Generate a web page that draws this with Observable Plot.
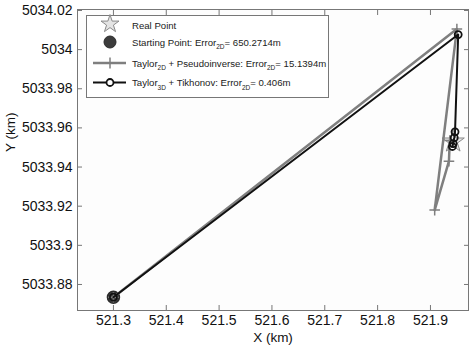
<!DOCTYPE html>
<html>
<head>
<meta charset="utf-8">
<script src="https://cdn.jsdelivr.net/npm/d3@7"></script>
<script src="https://cdn.jsdelivr.net/npm/@observablehq/plot@0.6"></script>
<style>
  html, body { margin: 0; padding: 0; background: #fff; }
  #chart { position: relative; width: 474px; height: 351px; }
</style>
</head>
<body>
<div id="chart"></div>
<script>
// ---- data ----
const realX = [521.943];
const realY = [5033.953];
const startX = [521.300];
const startY = [5033.8735];
const pseudoX = [521.300, 521.950, 521.908, 521.935, 521.9365];
const pseudoY = [5033.8735, 5034.0105, 5033.918, 5033.943, 5033.9535];
const tikhX = [521.300, 521.9525, 521.9465, 521.945, 521.943, 521.9415];
const tikhY = [5033.8735, 5034.0077, 5033.958, 5033.955, 5033.952, 5033.9505];
const xTicks = [521.3, 521.4, 521.5, 521.6, 521.7, 521.8, 521.9];
const yTicks = [5033.88, 5033.9, 5033.92, 5033.94, 5033.96, 5033.98, 5034, 5034.02];
const legendLabels = [
  [["Real Point", false]],
  [["Starting Point: Error", false], ["2D", true], ["= 650.2714m", false]],
  [["Taylor", false], ["2D", true], [" + Pseudoinverse: Error", false], ["2D", true], ["= 15.1394m", false]],
  [["Taylor", false], ["3D", true], [" + Tikhonov: Error", false], ["2D", true], ["= 0.406m", false]]
];

const real = realX.map((x, i) => ({x, y: realY[i]}));
const start = startX.map((x, i) => ({x, y: startY[i]}));
const pseudo = pseudoX.map((x, i) => ({x, y: pseudoY[i]}));
const tikh = tikhX.map((x, i) => ({x, y: tikhY[i]}));

const fmt = d => String(+d.toFixed(2));
const FONT = "Liberation Sans, Arial, Helvetica, sans-serif";

const plot = Plot.plot({
  width: 474,
  height: 351,
  marginLeft: 77,
  marginRight: 6,
  marginTop: 9,
  marginBottom: 41,
  style: {fontFamily: FONT, fontSize: "14px", color: "#000", background: "#fff"},
  x: {domain: [521.232, 521.972]},
  y: {domain: [5033.8667, 5034.0205]},
  marks: [
    Plot.frame({fill: "#fdfdfd"}),
    Plot.axisX({anchor: "bottom", ticks: xTicks, tickSize: -5, tickPadding: 10, tickFormat: fmt, stroke: "#777", fill: "#111", label: null}),
    Plot.axisX({anchor: "top", ticks: xTicks, tickSize: -5, text: null, stroke: "#777", label: null}),
    Plot.axisY({anchor: "left", ticks: yTicks, tickSize: -5, tickPadding: 10, tickFormat: fmt, stroke: "#777", fill: "#111", label: null}),
    Plot.axisY({anchor: "right", ticks: yTicks, tickSize: -5, text: null, stroke: "#777", label: null}),
    Plot.frame({stroke: "#777", strokeWidth: 1}),
    Plot.dot(start, {x: "x", y: "y", r: 6, fill: "#3c3c3c", stroke: "#2a2a2a"}),
    Plot.dot(real, {x: "x", y: "y", symbol: "star", r: 7, fill: "#e4e4e4", stroke: "#8a8a8a", strokeWidth: 1}),
    Plot.line(pseudo, {x: "x", y: "y", stroke: "#7f7f7f", strokeWidth: 2.5}),
    Plot.dot(pseudo, {x: "x", y: "y", symbol: "plus", r: 3.5, stroke: "#7f7f7f", strokeWidth: 1.5}),
    Plot.line(tikh, {x: "x", y: "y", stroke: "#111", strokeWidth: 2}),
    Plot.dot(tikh, {x: "x", y: "y", symbol: "circle", r: 3.5, fill: "none", stroke: "#111", strokeWidth: 1.8}),
    Plot.text(["X (km)"], {frameAnchor: "bottom", dy: 31, lineAnchor: "bottom", fontSize: 13.5, fill: "#111"}),
    Plot.text(["Y (km)"], {frameAnchor: "left", dx: -67, rotate: -90, fontSize: 13.5, fill: "#111", dy: -8})
  ]
});
document.getElementById("chart").appendChild(plot);

// ---- legend inside plot ----
const svg = d3.select(plot);
const g = svg.append("g").attr("font-family", FONT).attr("font-size", "9.6px").attr("text-anchor", "start");
g.append("rect").attr("x", 86.5).attr("y", 15.5).attr("width", 242).attr("height", 82)
  .attr("fill", "#fff").attr("stroke", "#777").attr("stroke-width", 1);
const baselines = [28.5, 45.5, 66.5, 86];
const symX = 110;
// star
const starPath = d3.symbol(d3.symbolStar, 100)();
g.append("path").attr("d", starPath).attr("transform", `translate(${symX},${baselines[0] - 4.5})`)
  .attr("fill", "#e4e4e4").attr("stroke", "#8a8a8a");
// starting point
g.append("circle").attr("cx", symX).attr("cy", baselines[1] - 3.5).attr("r", 6)
  .attr("fill", "#3c3c3c").attr("stroke", "#2a2a2a");
// pseudo line
g.append("line").attr("x1", 93).attr("x2", 126).attr("y1", baselines[2] - 3.5).attr("y2", baselines[2] - 3.5)
  .attr("stroke", "#7f7f7f").attr("stroke-width", 2.5);
g.append("path").attr("d", d3.symbol(d3.symbolPlus, 40)()).attr("transform", `translate(${symX},${baselines[2] - 3.5})`)
  .attr("fill", "none").attr("stroke", "#7f7f7f").attr("stroke-width", 1.5);
// tikhonov line
g.append("line").attr("x1", 93).attr("x2", 126).attr("y1", baselines[3] - 3.5).attr("y2", baselines[3] - 3.5)
  .attr("stroke", "#111").attr("stroke-width", 2);
g.append("circle").attr("cx", symX).attr("cy", baselines[3] - 3.5).attr("r", 3.5)
  .attr("fill", "#fff").attr("stroke", "#111").attr("stroke-width", 1.8);

legendLabels.forEach((parts, i) => {
  const t = g.append("text").attr("x", 132).attr("y", baselines[i]).attr("fill", "#222").attr("text-anchor", "start");
  let shift = 0;
  parts.forEach(([s, sub]) => {
    const ts = t.append("tspan").text(s);
    if (sub) { ts.attr("font-size", "6.5px").attr("dy", 3.5 - shift); shift = 3.5; }
    else { ts.attr("dy", -shift); shift = 0; }
  });
});
</script>
</body>
</html>
